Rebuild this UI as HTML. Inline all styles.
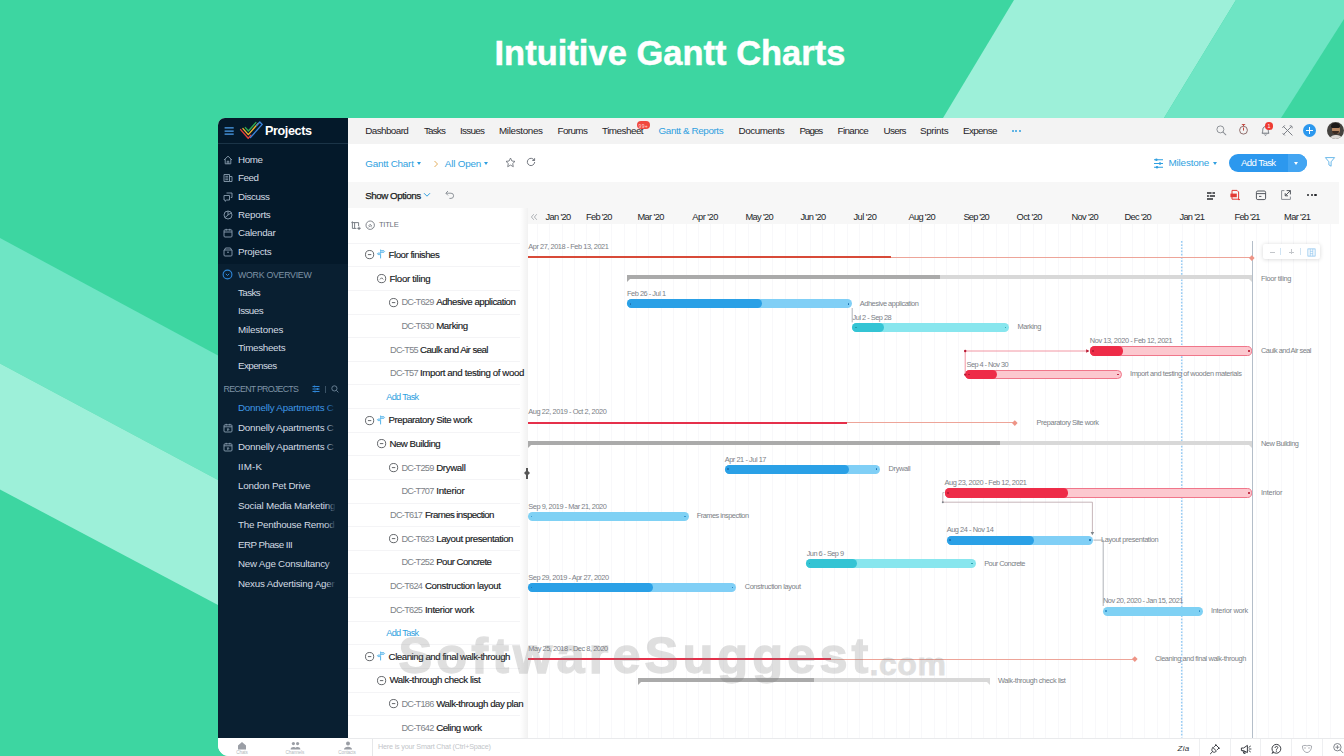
<!DOCTYPE html>
<html lang="en"><head><meta charset="utf-8"><title>Intuitive Gantt Charts</title>
<style>
html,body{margin:0;padding:0}
body{width:1344px;height:756px;position:relative;overflow:hidden;background:#3dd6a1;font-family:"Liberation Sans",sans-serif;}
.t{position:absolute;white-space:nowrap;display:block}
.b{position:absolute}
svg{position:absolute;overflow:visible}
</style></head><body>
<svg width="1344" height="756" style="left:0;top:0" viewBox="0 0 1344 756"><polygon points="0,238 218,355.5 218,480 0,363.5" fill="#6ee5c4"/><polygon points="0,363.5 218,480 218,605 0,489.5" fill="#9df0d9"/><polygon points="1014,0 1236,0 1164,118 943,118" fill="#9df0d9"/><polygon points="1236,0 1344,0 1344,19 1281,118 1164,118" fill="#6ee5c4"/></svg>
<span class="t" style="left:494.5px;top:33.4px;font-size:34.4px;line-height:40px;color:#fff;font-weight:700;letter-spacing:0.057px;-webkit-text-stroke:0.5px #fff;">Intuitive Gantt Charts</span>
<div class="b" style="left:218.0px;top:117.5px;width:1126.0px;height:638.5px;background:#fff;border-radius:7px 0 0 11px;"></div>
<div class="b" style="left:218.0px;top:117.5px;width:130.0px;height:621.0px;background:#04192a;border-radius:7px 0 0 0;"></div>
<div class="b" style="left:218.0px;top:143.3px;width:130.0px;height:1.0px;background:#1b3447;"></div>
<div class="b" style="left:218.0px;top:263.5px;width:130.0px;height:475.0px;background:#091f31;"></div>
<svg style="left:223.5px;top:125.5px" width="11" height="11" viewBox="0 0 11 11" fill="none" ><path d="M0.6 1.9 H9.7 M0.6 5.1 H9.7 M0.6 8.2 H9.7" stroke="#4da0ee" stroke-width="1.3"/></svg>
<svg style="left:239px;top:120px" width="25" height="21" viewBox="0 0 25 21" fill="none" stroke-linecap="round" stroke-linejoin="round"><path d="M1.6 9.6 L9.2 18.2 L12 15.2" stroke="#e8423a" stroke-width="1.4"/><path d="M4 8.6 L9.3 14.6 L19.2 3.4" stroke="#f4b52d" stroke-width="1.4"/><path d="M6.4 7.6 L9.4 11 L16.8 2.6" stroke="#2fa84f" stroke-width="1.4"/><path d="M11.4 17.6 L23.2 4.4 L20.8 2 L17.6 5.4" stroke="#3b82d8" stroke-width="1.4"/></svg>
<span class="t" style="left:265.0px;top:123.3px;font-size:12.6px;line-height:16px;color:#fff;font-weight:700;letter-spacing:-0.390px;">Projects</span>
<span class="t" style="left:238.0px;top:152.7px;font-size:9.8px;line-height:14px;color:#d3dbe3;letter-spacing:-0.410px;">Home</span>
<span class="t" style="left:238.0px;top:171.0px;font-size:9.8px;line-height:14px;color:#d3dbe3;letter-spacing:-0.459px;">Feed</span>
<span class="t" style="left:238.0px;top:189.5px;font-size:9.8px;line-height:14px;color:#d3dbe3;letter-spacing:-0.401px;">Discuss</span>
<span class="t" style="left:238.0px;top:207.9px;font-size:9.8px;line-height:14px;color:#d3dbe3;letter-spacing:-0.259px;">Reports</span>
<span class="t" style="left:238.0px;top:226.2px;font-size:9.8px;line-height:14px;color:#d3dbe3;letter-spacing:-0.283px;">Calendar</span>
<span class="t" style="left:238.0px;top:244.6px;font-size:9.8px;line-height:14px;color:#d3dbe3;letter-spacing:-0.237px;">Projects</span>
<span class="t" style="left:238.0px;top:267.6px;font-size:8.8px;line-height:14px;color:#7e93a6;letter-spacing:-0.276px;">WORK OVERVIEW</span>
<span class="t" style="left:238.0px;top:285.7px;font-size:9.8px;line-height:14px;color:#d3dbe3;letter-spacing:-0.610px;">Tasks</span>
<span class="t" style="left:238.0px;top:304.1px;font-size:9.8px;line-height:14px;color:#d3dbe3;letter-spacing:-0.554px;">Issues</span>
<span class="t" style="left:238.0px;top:322.5px;font-size:9.8px;line-height:14px;color:#d3dbe3;letter-spacing:-0.154px;">Milestones</span>
<span class="t" style="left:238.0px;top:340.9px;font-size:9.8px;line-height:14px;color:#d3dbe3;letter-spacing:-0.298px;">Timesheets</span>
<span class="t" style="left:238.0px;top:359.2px;font-size:9.8px;line-height:14px;color:#d3dbe3;letter-spacing:-0.567px;">Expenses</span>
<span class="t" style="left:223.6px;top:382.3px;font-size:8.8px;line-height:14px;color:#7e93a6;letter-spacing:-0.727px;">RECENT PROJECTS</span>
<div class="b" style="left:218px;top:398px;width:117px;height:196px;overflow:hidden">
<span class="t" style="left:20.0px;top:3.0px;font-size:9.8px;line-height:14px;color:#3f97e6;letter-spacing:-0.215px;">Donnelly Apartments C</span>
<span class="t" style="left:20.0px;top:22.6px;font-size:9.8px;line-height:14px;color:#d3dbe3;letter-spacing:-0.215px;">Donnelly Apartments C</span>
<span class="t" style="left:20.0px;top:42.1px;font-size:9.8px;line-height:14px;color:#d3dbe3;letter-spacing:-0.215px;">Donnelly Apartments C</span>
<span class="t" style="left:20.0px;top:61.6px;font-size:9.8px;line-height:14px;color:#d3dbe3;letter-spacing:0.138px;">IIM-K</span>
<span class="t" style="left:20.0px;top:81.1px;font-size:9.8px;line-height:14px;color:#d3dbe3;letter-spacing:-0.213px;">London Pet Drive</span>
<span class="t" style="left:20.0px;top:100.6px;font-size:9.8px;line-height:14px;color:#d3dbe3;letter-spacing:-0.208px;">Social Media Marketing</span>
<span class="t" style="left:20.0px;top:120.1px;font-size:9.8px;line-height:14px;color:#d3dbe3;letter-spacing:-0.228px;">The Penthouse Remodeling</span>
<span class="t" style="left:20.0px;top:139.6px;font-size:9.8px;line-height:14px;color:#d3dbe3;letter-spacing:-0.544px;">ERP Phase III</span>
<span class="t" style="left:20.0px;top:159.1px;font-size:9.8px;line-height:14px;color:#d3dbe3;letter-spacing:-0.227px;">New Age Consultancy</span>
<span class="t" style="left:20.0px;top:178.6px;font-size:9.8px;line-height:14px;color:#d3dbe3;letter-spacing:-0.212px;">Nexus Advertising Agency</span>
</div>
<div class="b" style="left:326.0px;top:398.0px;width:10.0px;height:196.0px;background:linear-gradient(90deg,rgba(9,31,49,0),rgba(9,31,49,1));"></div>
<svg style="left:222.5px;top:154.7px" width="10" height="10" viewBox="0 0 10 10" fill="none" ><path d="M1 5 L5 1.2 L9 5 M2.2 4.2 V8.8 H7.8 V4.2 M4.2 8.8 V6.2 H5.8 V8.8" stroke="#8a9eb0" stroke-width="0.9" stroke-linejoin="round"/></svg>
<svg style="left:222.5px;top:173.0px" width="10" height="10" viewBox="0 0 10 10" fill="none" ><path d="M1 1.5 H6.5 V8.5 H1 Z M6.5 3.5 H9 V8.5 H6.5 M2.3 3.3 H5.2 M2.3 5 H5.2 M2.3 6.7 H5.2" stroke="#8a9eb0" stroke-width="0.9"/></svg>
<svg style="left:222.5px;top:191.5px" width="10" height="10" viewBox="0 0 10 10" fill="none" ><path d="M3.5 1 H9 V5.5 H7.8 M1 3.5 H6.5 V8 H3.6 L2.2 9.3 V8 H1 Z" stroke="#8a9eb0" stroke-width="0.9" stroke-linejoin="round"/></svg>
<svg style="left:222.5px;top:209.9px" width="10" height="10" viewBox="0 0 10 10" fill="none" ><circle cx="5" cy="5" r="4" stroke="#8a9eb0" stroke-width="0.9"/><path d="M5 5 L8.3 2.8 M5 5 L2 7.6 M5 5 V1" stroke="#8a9eb0" stroke-width="0.9"/></svg>
<svg style="left:222.5px;top:228.2px" width="10" height="10" viewBox="0 0 10 10" fill="none" ><rect x="1" y="1.8" width="8" height="7.2" rx="1" stroke="#8a9eb0" stroke-width="0.9"/><path d="M1 4 H9 M3.2 0.8 V2.6 M6.8 0.8 V2.6" stroke="#8a9eb0" stroke-width="0.9"/></svg>
<svg style="left:222.5px;top:246.6px" width="10" height="10" viewBox="0 0 10 10" fill="none" ><path d="M1 3 H9 V8 A1 1 0 0 1 8 9 H2 A1 1 0 0 1 1 8 Z M1.5 3 L2.5 1 H7.5 L8.5 3 M4 5.2 H6" stroke="#8a9eb0" stroke-width="0.9" stroke-linejoin="round"/></svg>
<svg style="left:222.0px;top:269.2px" width="11" height="11" viewBox="0 0 11 11" fill="none" ><circle cx="5.5" cy="5.5" r="4.4" stroke="#2f86d8" stroke-width="1.1"/><path d="M3.8 4.8 L5.5 6.5 L7.2 4.8" stroke="#2f86d8" stroke-width="1"/></svg>
<svg style="left:311.5px;top:385.2px" width="8" height="8" viewBox="0 0 8 8" fill="none" ><path d="M0.5 1.5 H7.5 M0.5 4 H7.5 M0.5 6.5 H7.5" stroke="#2f86d8" stroke-width="1"/><circle cx="2.5" cy="1.5" r="0.9" fill="#2f86d8"/><circle cx="5.5" cy="4" r="0.9" fill="#2f86d8"/><circle cx="3" cy="6.5" r="0.9" fill="#2f86d8"/></svg>
<div class="b" style="left:325.3px;top:386.0px;width:0.8px;height:6.5px;background:#3a5266;"></div>
<svg style="left:330.5px;top:385.4px" width="8" height="8" viewBox="0 0 8 8" fill="none" ><circle cx="3.4" cy="3.4" r="2.6" stroke="#6f879b" stroke-width="0.9"/><path d="M5.4 5.4 L7.4 7.4" stroke="#6f879b" stroke-width="0.9"/></svg>
<svg style="left:222.5px;top:422.6px" width="10" height="10" viewBox="0 0 10 10" fill="none" ><rect x="1" y="1.8" width="8" height="7.2" rx="1" stroke="#8a9eb0" stroke-width="0.9"/><path d="M1 3.8 H9 M3.2 0.8 V2.4 M6.8 0.8 V2.4 M5 5 V7.4 M3.9 6.3 L5 7.4 L6.1 6.3" stroke="#8a9eb0" stroke-width="0.9"/></svg>
<svg style="left:222.5px;top:442.1px" width="10" height="10" viewBox="0 0 10 10" fill="none" ><rect x="1" y="1.8" width="8" height="7.2" rx="1" stroke="#8a9eb0" stroke-width="0.9"/><path d="M1 3.8 H9 M3.2 0.8 V2.4 M6.8 0.8 V2.4 M5 5 V7.4 M3.9 6.3 L5 7.4 L6.1 6.3" stroke="#8a9eb0" stroke-width="0.9"/></svg>
<div class="b" style="left:348.0px;top:117.5px;width:996.0px;height:26.5px;background:#f3f3f3;"></div>
<span class="t" style="left:365.2px;top:123.6px;font-size:9.9px;line-height:14px;color:#1f2328;letter-spacing:-0.581px;">Dashboard</span>
<span class="t" style="left:423.9px;top:123.6px;font-size:9.9px;line-height:14px;color:#1f2328;letter-spacing:-0.801px;">Tasks</span>
<span class="t" style="left:460.0px;top:123.6px;font-size:9.9px;line-height:14px;color:#1f2328;letter-spacing:-0.719px;">Issues</span>
<span class="t" style="left:499.0px;top:123.6px;font-size:9.9px;line-height:14px;color:#1f2328;letter-spacing:-0.352px;">Milestones</span>
<span class="t" style="left:557.5px;top:123.6px;font-size:9.9px;line-height:14px;color:#1f2328;letter-spacing:-0.625px;">Forums</span>
<span class="t" style="left:602.0px;top:123.6px;font-size:9.9px;line-height:14px;color:#1f2328;letter-spacing:-0.516px;">Timesheet</span>
<span class="t" style="left:658.6px;top:123.6px;font-size:9.9px;line-height:14px;color:#2f9fe0;letter-spacing:-0.412px;">Gantt &amp; Reports</span>
<span class="t" style="left:738.5px;top:123.6px;font-size:9.9px;line-height:14px;color:#1f2328;letter-spacing:-0.474px;">Documents</span>
<span class="t" style="left:799.5px;top:123.6px;font-size:9.9px;line-height:14px;color:#1f2328;letter-spacing:-1.054px;">Pages</span>
<span class="t" style="left:837.5px;top:123.6px;font-size:9.9px;line-height:14px;color:#1f2328;letter-spacing:-0.631px;">Finance</span>
<span class="t" style="left:883.5px;top:123.6px;font-size:9.9px;line-height:14px;color:#1f2328;letter-spacing:-0.710px;">Users</span>
<span class="t" style="left:920.0px;top:123.6px;font-size:9.9px;line-height:14px;color:#1f2328;letter-spacing:-0.359px;">Sprints</span>
<span class="t" style="left:963.0px;top:123.6px;font-size:9.9px;line-height:14px;color:#1f2328;letter-spacing:-0.675px;">Expense</span>
<div class="b" style="left:1011.6px;top:129.6px;width:2.2px;height:2.2px;border-radius:50%;background:#2f9fe0"></div>
<div class="b" style="left:1015.2px;top:129.6px;width:2.2px;height:2.2px;border-radius:50%;background:#2f9fe0"></div>
<div class="b" style="left:1018.8px;top:129.6px;width:2.2px;height:2.2px;border-radius:50%;background:#2f9fe0"></div>
<div class="b" style="left:636.5px;top:121.3px;width:13.5px;height:8.2px;border-radius:5px;background:#f0483e"></div>
<span class="t" style="left:638.6px;top:121.5px;font-size:5px;line-height:8px;color:#ffd9d4;letter-spacing:0.340px;">99+</span>
<svg style="left:1215.0px;top:124.0px" width="13" height="13" viewBox="0 0 13 13" fill="none" ><circle cx="5.4" cy="5.4" r="3.5" stroke="#8b8f95" stroke-width="0.95"/><path d="M8 8 L10.8 10.8" stroke="#8b8f95" stroke-width="1.05" stroke-linecap="round"/></svg>
<svg style="left:1236.8px;top:123.2px" width="13" height="13" viewBox="0 0 13 13" fill="none" ><circle cx="6.5" cy="7.2" r="3.9" stroke="#8a6664" stroke-width="0.95"/><path d="M6.5 7.2 V5 M5.2 1.6 H7.8 M6.5 1.6 V3" stroke="#c0473f" stroke-width="1" stroke-linecap="round"/></svg>
<svg style="left:1258.5px;top:124.0px" width="13" height="13" viewBox="0 0 13 13" fill="none" ><path d="M3 9.2 C3.8 8.2 3.6 6.8 3.8 5.4 C4 3.6 5 2.6 6.5 2.6 C8 2.6 9 3.6 9.2 5.4 C9.4 6.8 9.2 8.2 10 9.2 Z M5.4 10.6 C5.8 11.4 7.2 11.4 7.6 10.6" stroke="#6b7078" stroke-width="1" stroke-linejoin="round"/></svg>
<div class="b" style="left:1265px;top:122.2px;width:7.6px;height:7.6px;border-radius:50%;background:#ee3b33"></div>
<span class="t" style="left:1267.5px;top:122.1px;font-size:5.2px;line-height:8px;color:#fff;">1</span>
<svg style="left:1280.5px;top:124.0px" width="13" height="13" viewBox="0 0 13 13" fill="none" ><path d="M2.6 2.6 L10.4 10.4 M10.4 2.6 L2.6 10.4" stroke="#777b82" stroke-width="0.95" stroke-linecap="round"/><path d="M1.6 3.6 L3.6 1.6 M9 1.8 C10.4 1.2 11.8 2.6 11.2 4 M1.8 9.4 L3.6 11.2 M9.6 9.6 L11.2 11.2" stroke="#777b82" stroke-width="0.9" stroke-linecap="round"/></svg>
<div class="b" style="left:1302.7px;top:123.7px;width:13.4px;height:13.4px;border-radius:50%;background:#2c98ee"></div>
<div class="b" style="left:1306.2px;top:129.9px;width:6.4px;height:1.0px;background:#fff;"></div>
<div class="b" style="left:1308.9px;top:127.2px;width:1.0px;height:6.4px;background:#fff;"></div>
<div class="b" style="left:1326.6px;top:121.5px;width:17.8px;height:17.8px;border-radius:50%;background:#45423f;overflow:hidden"><div class="b" style="left:5.2px;top:3.4px;width:7.8px;height:9.4px;border-radius:46%;background:#b78763"></div><div class="b" style="left:4.4px;top:1.4px;width:9.4px;height:4.8px;border-radius:5px 5px 2px 2px;background:#1d1a19"></div><div class="b" style="left:5.6px;top:9.2px;width:7px;height:3.8px;border-radius:1px 1px 4px 4px;background:#3a2a22"></div><div class="b" style="left:2.4px;top:13.2px;width:14px;height:7px;border-radius:6px 6px 0 0;background:#dcd8d4"></div></div>
<span class="t" style="left:365.2px;top:156.7px;font-size:9.9px;line-height:14px;color:#2f9fe0;letter-spacing:-0.234px;">Gantt Chart</span>
<div class="b" style="left:417.3px;top:162px;width:0;height:0;border-left:2.6px solid transparent;border-right:2.6px solid transparent;border-top:3px solid #2f9fe0"></div>
<svg style="left:432.5px;top:159.5px" width="6" height="8" viewBox="0 0 6 8" fill="none" ><path d="M1.5 1 L4.5 4 L1.5 7" stroke="#e0a34a" stroke-width="0.9"/></svg>
<span class="t" style="left:444.8px;top:156.7px;font-size:9.9px;line-height:14px;color:#2f9fe0;letter-spacing:-0.196px;">All Open</span>
<div class="b" style="left:484.3px;top:162px;width:0;height:0;border-left:2.6px solid transparent;border-right:2.6px solid transparent;border-top:3px solid #2f9fe0"></div>
<svg style="left:505.0px;top:157.3px" width="11" height="11" viewBox="0 0 11 11" fill="none" ><path d="M5.5 1 L6.9 4 L10 4.4 L7.7 6.5 L8.3 9.7 L5.5 8.1 L2.7 9.7 L3.3 6.5 L1 4.4 L4.1 4 Z" stroke="#6b7078" stroke-width="0.85" stroke-linejoin="round"/></svg>
<svg style="left:525.5px;top:157.3px" width="10" height="10" viewBox="0 0 10 10" fill="none" ><path d="M8.3 3.2 A3.7 3.7 0 1 0 8.7 5.4" stroke="#6b7078" stroke-width="0.95" stroke-linecap="round"/><path d="M8.6 1.2 V3.5 H6.3" stroke="#6b7078" stroke-width="0.95"/></svg>
<svg style="left:1153.0px;top:158.0px" width="11" height="11" viewBox="0 0 11 11" fill="none" ><path d="M1 1.8 H10 M1 5.5 H10 M1 9.2 H10" stroke="#2f9fe0" stroke-width="1.1"/><circle cx="3.4" cy="1.8" r="1.2" fill="#2f9fe0"/><circle cx="7" cy="5.5" r="1.2" fill="#2f9fe0"/><circle cx="4" cy="9.2" r="1.2" fill="#2f9fe0"/></svg>
<span class="t" style="left:1168.6px;top:156.2px;font-size:9.9px;line-height:14px;color:#2f9fe0;letter-spacing:-0.196px;">Milestone</span>
<div class="b" style="left:1213.2px;top:162px;width:0;height:0;border-left:2.6px solid transparent;border-right:2.6px solid transparent;border-top:3px solid #2f9fe0"></div>
<div class="b" style="left:1229px;top:154px;width:77.6px;height:18.2px;border-radius:9.1px;background:#2c98ee;overflow:hidden"><div class="b" style="left:58.6px;top:0;width:19px;height:18.2px;background:#43a5f2"></div></div>
<span class="t" style="left:1241.0px;top:156.3px;font-size:9.6px;line-height:14px;color:#fff;letter-spacing:-0.589px;">Add Task</span>
<div class="b" style="left:1294.2px;top:161.9px;width:0;height:0;border-left:2.6px solid transparent;border-right:2.6px solid transparent;border-top:3px solid #fff"></div>
<svg style="left:1324.0px;top:155.5px" width="12" height="12" viewBox="0 0 12 12" fill="none" ><path d="M1.4 1.6 H10.6 L7.1 5.8 V10.2 L4.9 8.9 V5.8 Z" stroke="#5ab0e6" stroke-width="0.9" stroke-linejoin="round"/></svg>
<div class="b" style="left:348.0px;top:182.0px;width:990.7px;height:26.0px;background:#f7f7f7;"></div>
<span class="t" style="left:365.2px;top:188.6px;font-size:9.8px;line-height:14px;color:#1a1d21;letter-spacing:-0.467px;-webkit-text-stroke:0.25px #1a1d21;">Show Options</span>
<svg style="left:422.6px;top:192.4px" width="8" height="6" viewBox="0 0 8 6" fill="none" ><path d="M1 1.2 L4 4.2 L7 1.2" stroke="#2f9fe0" stroke-width="1"/></svg>
<svg style="left:443.5px;top:190.0px" width="11" height="10" viewBox="0 0 11 10" fill="none" ><path d="M2 3.2 H7 A2.6 2.6 0 0 1 7 8.4 H5.4" stroke="#8a8f96" stroke-width="0.95"/><path d="M4 1 L1.8 3.2 L4 5.4" stroke="#8a8f96" stroke-width="0.95"/></svg>
<svg style="left:1204.5px;top:189.5px" width="12" height="12" viewBox="0 0 12 12" fill="none" ><path d="M2 3 H10 M2 6 H10 M2 9 H8" stroke="#2a2d31" stroke-width="1.7"/><path d="M7 1.6 V4.4 M4.4 4.6 V7.4" stroke="#f5f5f6" stroke-width="0.9"/></svg>
<svg style="left:1229.0px;top:189.0px" width="12" height="12" viewBox="0 0 12 12" fill="none" ><path d="M3 1.4 H8 L9.6 3 V10.2 H3 Z" stroke="#e23b35" stroke-width="1"/><rect x="1.4" y="4.6" width="6.4" height="3.6" fill="#e23b35"/><path d="M9 10.6 H11" stroke="#e23b35" stroke-width="1"/></svg>
<svg style="left:1255.0px;top:189.0px" width="12" height="12" viewBox="0 0 12 12" fill="none" ><rect x="1.4" y="2" width="9.2" height="8.6" rx="1.4" stroke="#53585f" stroke-width="1"/><path d="M1.4 4.6 H10.6 M4 7.4 H6.4" stroke="#53585f" stroke-width="1"/></svg>
<svg style="left:1280.0px;top:189.0px" width="12" height="12" viewBox="0 0 12 12" fill="none" ><path d="M4.4 1.6 H1.6 V10.4 H10.4 V7.6" stroke="#8a8f96" stroke-width="1"/><path d="M6.6 1.6 H10.4 V5.4 M10.4 1.6 L5.2 6.8 M5.2 6.8 H8 M5.2 6.8 V4.2" stroke="#53585f" stroke-width="1"/></svg>
<div class="b" style="left:1306.6px;top:193.9px;width:2.4px;height:2.4px;border-radius:50%;background:#24272b"></div>
<div class="b" style="left:1310.5px;top:193.9px;width:2.4px;height:2.4px;border-radius:50%;background:#24272b"></div>
<div class="b" style="left:1314.4px;top:193.9px;width:2.4px;height:2.4px;border-radius:50%;background:#24272b"></div>
<div class="b" style="left:527.8px;top:208.0px;width:810.9px;height:16.3px;background:#f7f7f7;"></div>
<div class="b" style="left:348.0px;top:242.6px;width:172.0px;height:0.8px;background:#f4f4f6;"></div>
<div class="b" style="left:348.0px;top:266.2px;width:172.0px;height:0.8px;background:#f4f4f6;"></div>
<div class="b" style="left:348.0px;top:289.8px;width:172.0px;height:0.8px;background:#f4f4f6;"></div>
<div class="b" style="left:348.0px;top:313.5px;width:172.0px;height:0.8px;background:#f4f4f6;"></div>
<div class="b" style="left:348.0px;top:337.1px;width:172.0px;height:0.8px;background:#f4f4f6;"></div>
<div class="b" style="left:348.0px;top:360.7px;width:172.0px;height:0.8px;background:#f4f4f6;"></div>
<div class="b" style="left:348.0px;top:384.4px;width:172.0px;height:0.8px;background:#f4f4f6;"></div>
<div class="b" style="left:348.0px;top:408.0px;width:172.0px;height:0.8px;background:#f4f4f6;"></div>
<div class="b" style="left:348.0px;top:431.6px;width:172.0px;height:0.8px;background:#f4f4f6;"></div>
<div class="b" style="left:348.0px;top:455.3px;width:172.0px;height:0.8px;background:#f4f4f6;"></div>
<div class="b" style="left:348.0px;top:478.9px;width:172.0px;height:0.8px;background:#f4f4f6;"></div>
<div class="b" style="left:348.0px;top:502.5px;width:172.0px;height:0.8px;background:#f4f4f6;"></div>
<div class="b" style="left:348.0px;top:526.1px;width:172.0px;height:0.8px;background:#f4f4f6;"></div>
<div class="b" style="left:348.0px;top:549.8px;width:172.0px;height:0.8px;background:#f4f4f6;"></div>
<div class="b" style="left:348.0px;top:573.4px;width:172.0px;height:0.8px;background:#f4f4f6;"></div>
<div class="b" style="left:348.0px;top:597.0px;width:172.0px;height:0.8px;background:#f4f4f6;"></div>
<div class="b" style="left:348.0px;top:620.7px;width:172.0px;height:0.8px;background:#f4f4f6;"></div>
<div class="b" style="left:348.0px;top:644.3px;width:172.0px;height:0.8px;background:#f4f4f6;"></div>
<div class="b" style="left:348.0px;top:667.9px;width:172.0px;height:0.8px;background:#f4f4f6;"></div>
<div class="b" style="left:348.0px;top:691.6px;width:172.0px;height:0.8px;background:#f4f4f6;"></div>
<div class="b" style="left:348.0px;top:715.2px;width:172.0px;height:0.8px;background:#f4f4f6;"></div>
<div class="b" style="left:519.5px;top:208.0px;width:8.3px;height:530.0px;background:linear-gradient(90deg,rgba(0,0,0,0),rgba(0,0,0,0.055));"></div>
<div class="b" style="left:526.4px;top:468.0px;width:1.2px;height:11.0px;background:#555;"></div>
<div class="b" style="left:524.2px;top:471.4px;width:0;height:0;border-top:2px solid transparent;border-bottom:2px solid transparent;border-right:2.2px solid #555"></div>
<div class="b" style="left:527.6px;top:471.4px;width:0;height:0;border-top:2px solid transparent;border-bottom:2px solid transparent;border-left:2.2px solid #555"></div>
<svg style="left:351.0px;top:219.5px" width="11" height="11" viewBox="0 0 11 11" fill="none" ><path d="M1.4 2.6 H7.6 V6 M1.4 2.6 V8.4 H5.4 M3.6 2.6 V8.4 M0.4 2.6 H1.4 M1.4 1.4 V2.6" stroke="#6b7078" stroke-width="0.9"/><path d="M8 6.6 V10 M6.3 8.3 H9.7" stroke="#6b7078" stroke-width="1"/></svg>
<svg style="left:365.3px;top:219.7px" width="10.4" height="10.4" viewBox="0 0 10.4 10.4" fill="none" ><circle cx="5.2" cy="5.2" r="4.2" stroke="#6b7078" stroke-width="0.85"/><path d="M3.5 5.9 L5.2 4.2 L6.9 5.9 M3.5 7.4 L5.2 5.7 L6.9 7.4" stroke="#6b7078" stroke-width="0.75"/></svg>
<span class="t" style="left:378.9px;top:218.2px;font-size:7.6px;line-height:14px;color:#6b7078;letter-spacing:-0.218px;">TITLE</span>
<svg style="left:365.4px;top:250.1px" width="9.2" height="9.2" viewBox="0 0 9.2 9.2" fill="none" ><circle cx="4.6" cy="4.6" r="4.1" stroke="#3c4045" stroke-width="0.8"/><path d="M2.9 4.6 H6.3" stroke="#3c4045" stroke-width="0.8"/></svg>
<svg style="left:377.2px;top:249.2px" width="8" height="10" viewBox="0 0 8 10" fill="none" ><path d="M3.6 0.6 V9.4" stroke="#55b4ea" stroke-width="1"/><path d="M3.6 1.6 H6.8 L7.6 2.5 L6.8 3.4 H3.6 M3.6 4 H1 L0.3 4.8 L1 5.6 H3.6" stroke="#55b4ea" stroke-width="0.8" fill="#bfe3f7"/></svg>
<span class="t" style="left:388.6px;top:248.0px;font-size:9.7px;line-height:14px;color:#16181b;letter-spacing:-0.491px;-webkit-text-stroke:0.14px #16181b;">Floor finishes</span>
<svg style="left:377.1px;top:273.8px" width="9.2" height="9.2" viewBox="0 0 9.2 9.2" fill="none" ><circle cx="4.6" cy="4.6" r="4.1" stroke="#3c4045" stroke-width="0.8"/><path d="M3 5.4 L4.6 3.8 L6.2 5.4" stroke="#3c4045" stroke-width="0.8"/></svg>
<span class="t" style="left:389.4px;top:271.6px;font-size:9.7px;line-height:14px;color:#16181b;letter-spacing:-0.303px;-webkit-text-stroke:0.14px #16181b;">Floor tiling</span>
<svg style="left:389.0px;top:297.5px" width="9.2" height="9.2" viewBox="0 0 9.2 9.2" fill="none" ><circle cx="4.6" cy="4.6" r="4.1" stroke="#3c4045" stroke-width="0.8"/><path d="M2.9 4.6 H6.3" stroke="#3c4045" stroke-width="0.8"/></svg>
<span class="t" style="left:401.4px;top:295.3px;font-size:9.2px;line-height:14px;color:#7d8288;letter-spacing:-0.731px;">DC-T629</span>
<span class="t" style="left:436.2px;top:295.3px;font-size:9.7px;line-height:14px;color:#16181b;letter-spacing:-0.484px;-webkit-text-stroke:0.14px #16181b;">Adhesive application</span>
<span class="t" style="left:401.4px;top:318.9px;font-size:9.2px;line-height:14px;color:#7d8288;letter-spacing:-0.731px;">DC-T630</span>
<span class="t" style="left:436.2px;top:318.9px;font-size:9.7px;line-height:14px;color:#16181b;letter-spacing:-0.414px;-webkit-text-stroke:0.14px #16181b;">Marking</span>
<span class="t" style="left:390.0px;top:342.5px;font-size:9.2px;line-height:14px;color:#7d8288;letter-spacing:-0.700px;">DC-T55</span>
<span class="t" style="left:420.0px;top:342.5px;font-size:9.7px;line-height:14px;color:#16181b;letter-spacing:-0.565px;-webkit-text-stroke:0.14px #16181b;">Caulk and Air seal</span>
<span class="t" style="left:390.0px;top:366.2px;font-size:9.2px;line-height:14px;color:#7d8288;letter-spacing:-0.734px;">DC-T57</span>
<span class="t" style="left:420.0px;top:366.2px;font-size:9.7px;line-height:14px;color:#16181b;letter-spacing:-0.396px;-webkit-text-stroke:0.14px #16181b;">Import and testing of wood</span>
<span class="t" style="left:386.2px;top:389.8px;font-size:9.2px;line-height:14px;color:#2f9fe0;letter-spacing:-0.659px;">Add Task</span>
<svg style="left:365.4px;top:415.5px" width="9.2" height="9.2" viewBox="0 0 9.2 9.2" fill="none" ><circle cx="4.6" cy="4.6" r="4.1" stroke="#3c4045" stroke-width="0.8"/><path d="M2.9 4.6 H6.3" stroke="#3c4045" stroke-width="0.8"/></svg>
<svg style="left:377.2px;top:414.6px" width="8" height="10" viewBox="0 0 8 10" fill="none" ><path d="M3.6 0.6 V9.4" stroke="#55b4ea" stroke-width="1"/><path d="M3.6 1.6 H6.8 L7.6 2.5 L6.8 3.4 H3.6 M3.6 4 H1 L0.3 4.8 L1 5.6 H3.6" stroke="#55b4ea" stroke-width="0.8" fill="#bfe3f7"/></svg>
<span class="t" style="left:388.6px;top:413.4px;font-size:9.7px;line-height:14px;color:#16181b;letter-spacing:-0.469px;-webkit-text-stroke:0.14px #16181b;">Preparatory Site work</span>
<svg style="left:377.1px;top:439.2px" width="9.2" height="9.2" viewBox="0 0 9.2 9.2" fill="none" ><circle cx="4.6" cy="4.6" r="4.1" stroke="#3c4045" stroke-width="0.8"/><path d="M2.9 4.6 H6.3" stroke="#3c4045" stroke-width="0.8"/></svg>
<span class="t" style="left:389.4px;top:437.0px;font-size:9.7px;line-height:14px;color:#16181b;letter-spacing:-0.476px;-webkit-text-stroke:0.14px #16181b;">New Building</span>
<svg style="left:389.0px;top:462.9px" width="9.2" height="9.2" viewBox="0 0 9.2 9.2" fill="none" ><circle cx="4.6" cy="4.6" r="4.1" stroke="#3c4045" stroke-width="0.8"/><path d="M2.9 4.6 H6.3" stroke="#3c4045" stroke-width="0.8"/></svg>
<span class="t" style="left:401.4px;top:460.7px;font-size:9.2px;line-height:14px;color:#7d8288;letter-spacing:-0.731px;">DC-T259</span>
<span class="t" style="left:436.2px;top:460.7px;font-size:9.7px;line-height:14px;color:#16181b;letter-spacing:-0.356px;-webkit-text-stroke:0.14px #16181b;">Drywall</span>
<span class="t" style="left:401.4px;top:484.3px;font-size:9.2px;line-height:14px;color:#7d8288;letter-spacing:-0.731px;">DC-T707</span>
<span class="t" style="left:436.2px;top:484.3px;font-size:9.7px;line-height:14px;color:#16181b;letter-spacing:-0.236px;-webkit-text-stroke:0.14px #16181b;">Interior</span>
<span class="t" style="left:390.0px;top:507.9px;font-size:9.2px;line-height:14px;color:#7d8288;letter-spacing:-0.731px;">DC-T617</span>
<span class="t" style="left:425.0px;top:507.9px;font-size:9.7px;line-height:14px;color:#16181b;letter-spacing:-0.603px;-webkit-text-stroke:0.14px #16181b;">Frames inspection</span>
<svg style="left:389.0px;top:533.8px" width="9.2" height="9.2" viewBox="0 0 9.2 9.2" fill="none" ><circle cx="4.6" cy="4.6" r="4.1" stroke="#3c4045" stroke-width="0.8"/><path d="M2.9 4.6 H6.3" stroke="#3c4045" stroke-width="0.8"/></svg>
<span class="t" style="left:401.4px;top:531.6px;font-size:9.2px;line-height:14px;color:#7d8288;letter-spacing:-0.731px;">DC-T623</span>
<span class="t" style="left:436.2px;top:531.6px;font-size:9.7px;line-height:14px;color:#16181b;letter-spacing:-0.432px;-webkit-text-stroke:0.14px #16181b;">Layout presentation</span>
<span class="t" style="left:401.4px;top:555.2px;font-size:9.2px;line-height:14px;color:#7d8288;letter-spacing:-0.731px;">DC-T252</span>
<span class="t" style="left:436.2px;top:555.2px;font-size:9.7px;line-height:14px;color:#16181b;letter-spacing:-0.557px;-webkit-text-stroke:0.14px #16181b;">Pour Concrete</span>
<span class="t" style="left:390.0px;top:578.8px;font-size:9.2px;line-height:14px;color:#7d8288;letter-spacing:-0.731px;">DC-T624</span>
<span class="t" style="left:425.0px;top:578.8px;font-size:9.7px;line-height:14px;color:#16181b;letter-spacing:-0.391px;-webkit-text-stroke:0.14px #16181b;">Construction layout</span>
<span class="t" style="left:390.0px;top:602.5px;font-size:9.2px;line-height:14px;color:#7d8288;letter-spacing:-0.731px;">DC-T625</span>
<span class="t" style="left:425.0px;top:602.5px;font-size:9.7px;line-height:14px;color:#16181b;letter-spacing:-0.335px;-webkit-text-stroke:0.14px #16181b;">Interior work</span>
<span class="t" style="left:386.2px;top:626.1px;font-size:9.2px;line-height:14px;color:#2f9fe0;letter-spacing:-0.659px;">Add Task</span>
<svg style="left:365.4px;top:651.8px" width="9.2" height="9.2" viewBox="0 0 9.2 9.2" fill="none" ><circle cx="4.6" cy="4.6" r="4.1" stroke="#3c4045" stroke-width="0.8"/><path d="M2.9 4.6 H6.3" stroke="#3c4045" stroke-width="0.8"/></svg>
<svg style="left:377.2px;top:650.9px" width="8" height="10" viewBox="0 0 8 10" fill="none" ><path d="M3.6 0.6 V9.4" stroke="#55b4ea" stroke-width="1"/><path d="M3.6 1.6 H6.8 L7.6 2.5 L6.8 3.4 H3.6 M3.6 4 H1 L0.3 4.8 L1 5.6 H3.6" stroke="#55b4ea" stroke-width="0.8" fill="#bfe3f7"/></svg>
<span class="t" style="left:388.6px;top:649.7px;font-size:9.7px;line-height:14px;color:#16181b;letter-spacing:-0.461px;-webkit-text-stroke:0.14px #16181b;">Cleaning and final walk-through</span>
<svg style="left:377.1px;top:675.5px" width="9.2" height="9.2" viewBox="0 0 9.2 9.2" fill="none" ><circle cx="4.6" cy="4.6" r="4.1" stroke="#3c4045" stroke-width="0.8"/><path d="M2.9 4.6 H6.3" stroke="#3c4045" stroke-width="0.8"/></svg>
<span class="t" style="left:389.4px;top:673.3px;font-size:9.7px;line-height:14px;color:#16181b;letter-spacing:-0.387px;-webkit-text-stroke:0.14px #16181b;">Walk-through check list</span>
<svg style="left:389.0px;top:699.2px" width="9.2" height="9.2" viewBox="0 0 9.2 9.2" fill="none" ><circle cx="4.6" cy="4.6" r="4.1" stroke="#3c4045" stroke-width="0.8"/><path d="M2.9 4.6 H6.3" stroke="#3c4045" stroke-width="0.8"/></svg>
<span class="t" style="left:401.4px;top:697.0px;font-size:9.2px;line-height:14px;color:#7d8288;letter-spacing:-0.731px;">DC-T186</span>
<span class="t" style="left:436.2px;top:697.0px;font-size:9.7px;line-height:14px;color:#16181b;letter-spacing:-0.461px;-webkit-text-stroke:0.14px #16181b;">Walk-through day plan</span>
<span class="t" style="left:401.4px;top:720.6px;font-size:9.2px;line-height:14px;color:#7d8288;letter-spacing:-0.731px;">DC-T642</span>
<span class="t" style="left:436.2px;top:720.6px;font-size:9.7px;line-height:14px;color:#16181b;letter-spacing:-0.479px;-webkit-text-stroke:0.14px #16181b;">Celing work</span>
<div class="b" style="left:536.7px;top:224.3px;width:0.8px;height:513.5px;background:#f8f8fa;"></div>
<div class="b" style="left:549.1px;top:224.3px;width:0.8px;height:513.5px;background:#f8f8fa;"></div>
<div class="b" style="left:561.5px;top:224.3px;width:0.8px;height:513.5px;background:#f8f8fa;"></div>
<div class="b" style="left:573.9px;top:224.3px;width:0.8px;height:513.5px;background:#f8f8fa;"></div>
<div class="b" style="left:586.3px;top:224.3px;width:0.8px;height:513.5px;background:#f8f8fa;"></div>
<div class="b" style="left:598.7px;top:224.3px;width:0.8px;height:513.5px;background:#f8f8fa;"></div>
<div class="b" style="left:611.1px;top:224.3px;width:0.8px;height:513.5px;background:#f8f8fa;"></div>
<div class="b" style="left:623.5px;top:224.3px;width:0.8px;height:513.5px;background:#f8f8fa;"></div>
<div class="b" style="left:635.9px;top:224.3px;width:0.8px;height:513.5px;background:#f8f8fa;"></div>
<div class="b" style="left:648.3px;top:224.3px;width:0.8px;height:513.5px;background:#f8f8fa;"></div>
<div class="b" style="left:660.7px;top:224.3px;width:0.8px;height:513.5px;background:#f8f8fa;"></div>
<div class="b" style="left:673.1px;top:224.3px;width:0.8px;height:513.5px;background:#f8f8fa;"></div>
<div class="b" style="left:685.5px;top:224.3px;width:0.8px;height:513.5px;background:#f8f8fa;"></div>
<div class="b" style="left:697.9px;top:224.3px;width:0.8px;height:513.5px;background:#f8f8fa;"></div>
<div class="b" style="left:710.3px;top:224.3px;width:0.8px;height:513.5px;background:#f8f8fa;"></div>
<div class="b" style="left:722.7px;top:224.3px;width:0.8px;height:513.5px;background:#f8f8fa;"></div>
<div class="b" style="left:735.1px;top:224.3px;width:0.8px;height:513.5px;background:#f8f8fa;"></div>
<div class="b" style="left:747.5px;top:224.3px;width:0.8px;height:513.5px;background:#f8f8fa;"></div>
<div class="b" style="left:759.9px;top:224.3px;width:0.8px;height:513.5px;background:#f8f8fa;"></div>
<div class="b" style="left:772.3px;top:224.3px;width:0.8px;height:513.5px;background:#f8f8fa;"></div>
<div class="b" style="left:784.7px;top:224.3px;width:0.8px;height:513.5px;background:#f8f8fa;"></div>
<div class="b" style="left:797.1px;top:224.3px;width:0.8px;height:513.5px;background:#f8f8fa;"></div>
<div class="b" style="left:809.5px;top:224.3px;width:0.8px;height:513.5px;background:#f8f8fa;"></div>
<div class="b" style="left:821.9px;top:224.3px;width:0.8px;height:513.5px;background:#f8f8fa;"></div>
<div class="b" style="left:834.3px;top:224.3px;width:0.8px;height:513.5px;background:#f8f8fa;"></div>
<div class="b" style="left:846.7px;top:224.3px;width:0.8px;height:513.5px;background:#f8f8fa;"></div>
<div class="b" style="left:859.1px;top:224.3px;width:0.8px;height:513.5px;background:#f8f8fa;"></div>
<div class="b" style="left:871.5px;top:224.3px;width:0.8px;height:513.5px;background:#f8f8fa;"></div>
<div class="b" style="left:883.9px;top:224.3px;width:0.8px;height:513.5px;background:#f8f8fa;"></div>
<div class="b" style="left:896.3px;top:224.3px;width:0.8px;height:513.5px;background:#f8f8fa;"></div>
<div class="b" style="left:908.7px;top:224.3px;width:0.8px;height:513.5px;background:#f8f8fa;"></div>
<div class="b" style="left:921.1px;top:224.3px;width:0.8px;height:513.5px;background:#f8f8fa;"></div>
<div class="b" style="left:933.5px;top:224.3px;width:0.8px;height:513.5px;background:#f8f8fa;"></div>
<div class="b" style="left:945.9px;top:224.3px;width:0.8px;height:513.5px;background:#f8f8fa;"></div>
<div class="b" style="left:958.3px;top:224.3px;width:0.8px;height:513.5px;background:#f8f8fa;"></div>
<div class="b" style="left:970.7px;top:224.3px;width:0.8px;height:513.5px;background:#f8f8fa;"></div>
<div class="b" style="left:983.1px;top:224.3px;width:0.8px;height:513.5px;background:#f8f8fa;"></div>
<div class="b" style="left:995.5px;top:224.3px;width:0.8px;height:513.5px;background:#f8f8fa;"></div>
<div class="b" style="left:1007.9px;top:224.3px;width:0.8px;height:513.5px;background:#f8f8fa;"></div>
<div class="b" style="left:1020.3px;top:224.3px;width:0.8px;height:513.5px;background:#f8f8fa;"></div>
<div class="b" style="left:1032.7px;top:224.3px;width:0.8px;height:513.5px;background:#f8f8fa;"></div>
<div class="b" style="left:1045.1px;top:224.3px;width:0.8px;height:513.5px;background:#f8f8fa;"></div>
<div class="b" style="left:1057.5px;top:224.3px;width:0.8px;height:513.5px;background:#f8f8fa;"></div>
<div class="b" style="left:1069.9px;top:224.3px;width:0.8px;height:513.5px;background:#f8f8fa;"></div>
<div class="b" style="left:1082.3px;top:224.3px;width:0.8px;height:513.5px;background:#f8f8fa;"></div>
<div class="b" style="left:1094.7px;top:224.3px;width:0.8px;height:513.5px;background:#f8f8fa;"></div>
<div class="b" style="left:1107.1px;top:224.3px;width:0.8px;height:513.5px;background:#f8f8fa;"></div>
<div class="b" style="left:1119.5px;top:224.3px;width:0.8px;height:513.5px;background:#f8f8fa;"></div>
<div class="b" style="left:1131.9px;top:224.3px;width:0.8px;height:513.5px;background:#f8f8fa;"></div>
<div class="b" style="left:1144.4px;top:224.3px;width:0.8px;height:513.5px;background:#f8f8fa;"></div>
<div class="b" style="left:1156.8px;top:224.3px;width:0.8px;height:513.5px;background:#f8f8fa;"></div>
<div class="b" style="left:1169.2px;top:224.3px;width:0.8px;height:513.5px;background:#f8f8fa;"></div>
<div class="b" style="left:1181.6px;top:224.3px;width:0.8px;height:513.5px;background:#f8f8fa;"></div>
<div class="b" style="left:1194.0px;top:224.3px;width:0.8px;height:513.5px;background:#f8f8fa;"></div>
<div class="b" style="left:1206.4px;top:224.3px;width:0.8px;height:513.5px;background:#f8f8fa;"></div>
<div class="b" style="left:1218.8px;top:224.3px;width:0.8px;height:513.5px;background:#f8f8fa;"></div>
<div class="b" style="left:1231.2px;top:224.3px;width:0.8px;height:513.5px;background:#f8f8fa;"></div>
<div class="b" style="left:1243.6px;top:224.3px;width:0.8px;height:513.5px;background:#f8f8fa;"></div>
<div class="b" style="left:1256.0px;top:224.3px;width:0.8px;height:513.5px;background:#f8f8fa;"></div>
<div class="b" style="left:1268.4px;top:224.3px;width:0.8px;height:513.5px;background:#f8f8fa;"></div>
<div class="b" style="left:1280.8px;top:224.3px;width:0.8px;height:513.5px;background:#f8f8fa;"></div>
<div class="b" style="left:1293.2px;top:224.3px;width:0.8px;height:513.5px;background:#f8f8fa;"></div>
<div class="b" style="left:1305.6px;top:224.3px;width:0.8px;height:513.5px;background:#f8f8fa;"></div>
<div class="b" style="left:1318.0px;top:224.3px;width:0.8px;height:513.5px;background:#f8f8fa;"></div>
<div class="b" style="left:1330.4px;top:224.3px;width:0.8px;height:513.5px;background:#f8f8fa;"></div>
<span class="t" style="left:545.4px;top:210.3px;font-size:9.3px;line-height:14px;color:#23262a;letter-spacing:-0.642px;">Jan &#x27;20</span>
<span class="t" style="left:586.0px;top:210.3px;font-size:9.3px;line-height:14px;color:#23262a;letter-spacing:-0.732px;">Feb &#x27;20</span>
<span class="t" style="left:637.4px;top:210.3px;font-size:9.3px;line-height:14px;color:#23262a;letter-spacing:-0.603px;">Mar &#x27;20</span>
<span class="t" style="left:692.3px;top:210.3px;font-size:9.3px;line-height:14px;color:#23262a;letter-spacing:-0.511px;">Apr &#x27;20</span>
<span class="t" style="left:745.5px;top:210.3px;font-size:9.3px;line-height:14px;color:#23262a;letter-spacing:-0.667px;">May &#x27;20</span>
<span class="t" style="left:800.4px;top:210.3px;font-size:9.3px;line-height:14px;color:#23262a;letter-spacing:-0.671px;">Jun &#x27;20</span>
<span class="t" style="left:853.5px;top:210.3px;font-size:9.3px;line-height:14px;color:#23262a;letter-spacing:-0.542px;">Jul &#x27;20</span>
<span class="t" style="left:908.5px;top:210.3px;font-size:9.3px;line-height:14px;color:#23262a;letter-spacing:-0.693px;">Aug &#x27;20</span>
<span class="t" style="left:963.4px;top:210.3px;font-size:9.3px;line-height:14px;color:#23262a;letter-spacing:-0.807px;">Sep &#x27;20</span>
<span class="t" style="left:1016.5px;top:210.3px;font-size:9.3px;line-height:14px;color:#23262a;letter-spacing:-0.539px;">Oct &#x27;20</span>
<span class="t" style="left:1071.5px;top:210.3px;font-size:9.3px;line-height:14px;color:#23262a;letter-spacing:-0.663px;">Nov &#x27;20</span>
<span class="t" style="left:1124.6px;top:210.3px;font-size:9.3px;line-height:14px;color:#23262a;letter-spacing:-0.692px;">Dec &#x27;20</span>
<span class="t" style="left:1179.5px;top:210.3px;font-size:9.3px;line-height:14px;color:#23262a;letter-spacing:-0.728px;">Jan &#x27;21</span>
<span class="t" style="left:1234.5px;top:210.3px;font-size:9.3px;line-height:14px;color:#23262a;letter-spacing:-0.789px;">Feb &#x27;21</span>
<span class="t" style="left:1284.1px;top:210.3px;font-size:9.3px;line-height:14px;color:#23262a;letter-spacing:-0.645px;">Mar &#x27;21</span>
<svg style="left:530.0px;top:213.3px" width="8" height="8" viewBox="0 0 8 8" fill="none" ><path d="M3.8 1.2 L1.4 4 L3.8 6.8 M6.8 1.2 L4.4 4 L6.8 6.8" stroke="#9a9ea4" stroke-width="0.8"/></svg>
<svg style="left:0;top:0" width="1344" height="756"><path d="M1181.7 241 V737.6" stroke="#98ccf4" stroke-width="1.5" stroke-dasharray="1.7 1.5"/></svg>
<div class="b" style="left:1252.0px;top:241.0px;width:0.9px;height:497.0px;background:#b4bec9;"></div>
<div class="b" style="left:528.0px;top:256.4px;width:362.6px;height:1.8px;background:#d84a38;"></div>
<div class="b" style="left:890.6px;top:256.8px;width:361.8px;height:1.0px;background:#eda498;"></div>
<div class="b" style="left:1250.4px;top:255.5px;width:3.6px;height:3.6px;background:#ee9486;transform:rotate(45deg)"></div>
<span class="t" style="left:528.3px;top:242.0px;font-size:7.4px;line-height:10px;color:#7b8086;letter-spacing:-0.458px;">Apr 27, 2018 - Feb 13, 2021</span>
<div class="b" style="left:627.0px;top:275.1px;width:313.4px;height:4.0px;background:#aaaaaa;"></div>
<div class="b" style="left:940.4px;top:275.1px;width:312.0px;height:4.0px;background:#d8d8d8;"></div>
<div class="b" style="left:627.0px;top:279.1px;width:0;height:0;border-left:0 solid transparent;border-right:3px solid transparent;border-top:3.4px solid #aaaaaa"></div>
<div class="b" style="left:1249.4px;top:279.1px;width:0;height:0;border-left:3px solid transparent;border-top:3.4px solid #d8d8d8"></div>
<span class="t" style="left:1261.0px;top:273.7px;font-size:7.4px;line-height:10px;color:#7b8086;letter-spacing:-0.344px;">Floor tiling</span>
<div class="b" style="left:627.0px;top:299.3px;width:225.0px;height:9.0px;box-sizing:border-box;border-radius:4.6px;background:#80cff6;"></div>
<div class="b" style="left:627.0px;top:299.3px;width:135.0px;height:9.0px;border-radius:4.6px;background:#2aa0e6"></div>
<div class="b" style="left:629.6px;top:303.0px;width:1.6px;height:1.6px;border-radius:50%;background:#1b6fae"></div>
<div class="b" style="left:847.6px;top:303.0px;width:1.6px;height:1.6px;border-radius:50%;background:#1b6fae"></div>
<span class="t" style="left:627.0px;top:289.1px;font-size:7.4px;line-height:10px;color:#7b8086;letter-spacing:-0.474px;">Feb 26 - Jul 1</span>
<span class="t" style="left:859.8px;top:298.6px;font-size:7.4px;line-height:10px;color:#7b8086;letter-spacing:-0.459px;">Adhesive application</span>
<div class="b" style="left:852.4px;top:322.9px;width:156.6px;height:9.0px;box-sizing:border-box;border-radius:4.6px;background:#88e6ee;"></div>
<div class="b" style="left:852.4px;top:322.9px;width:31.5px;height:9.0px;border-radius:4.6px;background:#34c4d4"></div>
<div class="b" style="left:855.0px;top:326.6px;width:1.6px;height:1.6px;border-radius:50%;background:#1f97a6"></div>
<div class="b" style="left:1004.6px;top:326.6px;width:1.6px;height:1.6px;border-radius:50%;background:#1f97a6"></div>
<span class="t" style="left:852.6px;top:312.7px;font-size:7.4px;line-height:10px;color:#7b8086;letter-spacing:-0.504px;">Jul 2 - Sep 28</span>
<span class="t" style="left:1017.4px;top:322.2px;font-size:7.4px;line-height:10px;color:#7b8086;letter-spacing:-0.388px;">Marking</span>
<div class="b" style="left:1089.8px;top:346.2px;width:162.6px;height:9.7px;box-sizing:border-box;border-radius:4.6px;background:#fcc8cf;border:0.9px solid #f0768a;"></div>
<div class="b" style="left:1089.8px;top:346.2px;width:32.8px;height:9.7px;border-radius:4.6px;background:#ee2c48"></div>
<div class="b" style="left:1092.4px;top:350.2px;width:1.6px;height:1.6px;border-radius:50%;background:#b81a33"></div>
<div class="b" style="left:1248.0px;top:350.2px;width:1.6px;height:1.6px;border-radius:50%;background:#b81a33"></div>
<span class="t" style="left:1089.8px;top:336.3px;font-size:7.4px;line-height:10px;color:#7b8086;letter-spacing:-0.433px;">Nov 13, 2020 - Feb 12, 2021</span>
<span class="t" style="left:1261.0px;top:345.8px;font-size:7.4px;line-height:10px;color:#7b8086;letter-spacing:-0.536px;">Caulk and Air seal</span>
<div class="b" style="left:965.4px;top:369.8px;width:156.3px;height:9.7px;box-sizing:border-box;border-radius:4.6px;background:#fcc8cf;border:0.9px solid #f0768a;"></div>
<div class="b" style="left:965.4px;top:369.8px;width:31.2px;height:9.7px;border-radius:4.6px;background:#ee2c48"></div>
<div class="b" style="left:968.0px;top:373.9px;width:1.6px;height:1.6px;border-radius:50%;background:#b81a33"></div>
<div class="b" style="left:1117.3px;top:373.9px;width:1.6px;height:1.6px;border-radius:50%;background:#b81a33"></div>
<span class="t" style="left:966.5px;top:359.9px;font-size:7.4px;line-height:10px;color:#7b8086;letter-spacing:-0.554px;">Sep 4 - Nov 30</span>
<span class="t" style="left:1130.0px;top:369.4px;font-size:7.4px;line-height:10px;color:#7b8086;letter-spacing:-0.419px;">Import and testing of wooden materials</span>
<div class="b" style="left:528.0px;top:421.8px;width:318.9px;height:1.8px;background:#e5304a;"></div>
<div class="b" style="left:846.9px;top:422.2px;width:168.5px;height:1.0px;background:#eda498;"></div>
<div class="b" style="left:1013.4px;top:420.9px;width:3.6px;height:3.6px;background:#ee9486;transform:rotate(45deg)"></div>
<span class="t" style="left:528.3px;top:407.4px;font-size:7.4px;line-height:10px;color:#7b8086;letter-spacing:-0.410px;">Aug 22, 2019 - Oct 2, 2020</span>
<span class="t" style="left:1036.6px;top:417.9px;font-size:7.4px;line-height:10px;color:#7b8086;letter-spacing:-0.435px;">Preparatory Site work</span>
<div class="b" style="left:528.0px;top:440.5px;width:471.8px;height:4.0px;background:#aaaaaa;"></div>
<div class="b" style="left:999.8px;top:440.5px;width:252.6px;height:4.0px;background:#d8d8d8;"></div>
<div class="b" style="left:528.0px;top:444.5px;width:0;height:0;border-right:3px solid transparent;border-top:3.4px solid #aaaaaa"></div>
<div class="b" style="left:1249.4px;top:444.5px;width:0;height:0;border-left:3px solid transparent;border-top:3.4px solid #d8d8d8"></div>
<span class="t" style="left:1261.0px;top:439.1px;font-size:7.4px;line-height:10px;color:#7b8086;letter-spacing:-0.474px;">New Building</span>
<div class="b" style="left:724.7px;top:464.7px;width:155.3px;height:9.0px;box-sizing:border-box;border-radius:4.6px;background:#80cff6;"></div>
<div class="b" style="left:724.7px;top:464.7px;width:124.0px;height:9.0px;border-radius:4.6px;background:#2aa0e6"></div>
<div class="b" style="left:727.3px;top:468.4px;width:1.6px;height:1.6px;border-radius:50%;background:#1b6fae"></div>
<div class="b" style="left:875.6px;top:468.4px;width:1.6px;height:1.6px;border-radius:50%;background:#1b6fae"></div>
<span class="t" style="left:724.7px;top:454.5px;font-size:7.4px;line-height:10px;color:#7b8086;letter-spacing:-0.448px;">Apr 21 - Jul 17</span>
<span class="t" style="left:888.6px;top:464.0px;font-size:7.4px;line-height:10px;color:#7b8086;letter-spacing:-0.379px;">Drywall</span>
<div class="b" style="left:944.6px;top:487.9px;width:307.8px;height:9.7px;box-sizing:border-box;border-radius:4.6px;background:#fcc8cf;border:0.9px solid #f0768a;"></div>
<div class="b" style="left:944.6px;top:487.9px;width:123.3px;height:9.7px;border-radius:4.6px;background:#ee2c48"></div>
<div class="b" style="left:947.2px;top:492.0px;width:1.6px;height:1.6px;border-radius:50%;background:#b81a33"></div>
<div class="b" style="left:1248.0px;top:492.0px;width:1.6px;height:1.6px;border-radius:50%;background:#b81a33"></div>
<span class="t" style="left:944.6px;top:478.1px;font-size:7.4px;line-height:10px;color:#7b8086;letter-spacing:-0.452px;">Aug 23, 2020 - Feb 12, 2021</span>
<span class="t" style="left:1261.0px;top:487.6px;font-size:7.4px;line-height:10px;color:#7b8086;letter-spacing:-0.229px;">Interior</span>
<div class="b" style="left:528.0px;top:511.9px;width:160.5px;height:9.0px;box-sizing:border-box;border-radius:4.6px;background:#7fd1f4;"></div>
<div class="b" style="left:530.6px;top:515.6px;width:1.6px;height:1.6px;border-radius:50%;background:#2e8fc9"></div>
<div class="b" style="left:684.1px;top:515.6px;width:1.6px;height:1.6px;border-radius:50%;background:#2e8fc9"></div>
<span class="t" style="left:528.3px;top:501.7px;font-size:7.4px;line-height:10px;color:#7b8086;letter-spacing:-0.457px;">Sep 9, 2019 - Mar 21, 2020</span>
<span class="t" style="left:696.8px;top:511.2px;font-size:7.4px;line-height:10px;color:#7b8086;letter-spacing:-0.509px;">Frames inspection</span>
<div class="b" style="left:946.7px;top:535.6px;width:146.8px;height:9.0px;box-sizing:border-box;border-radius:4.6px;background:#80cff6;"></div>
<div class="b" style="left:946.7px;top:535.6px;width:87.3px;height:9.0px;border-radius:4.6px;background:#2aa0e6"></div>
<div class="b" style="left:949.3px;top:539.3px;width:1.6px;height:1.6px;border-radius:50%;background:#1b6fae"></div>
<div class="b" style="left:1089.1px;top:539.3px;width:1.6px;height:1.6px;border-radius:50%;background:#1b6fae"></div>
<span class="t" style="left:946.7px;top:525.4px;font-size:7.4px;line-height:10px;color:#7b8086;letter-spacing:-0.445px;">Aug 24 - Nov 14</span>
<span class="t" style="left:1101.0px;top:534.9px;font-size:7.4px;line-height:10px;color:#7b8086;letter-spacing:-0.410px;">Layout presentation</span>
<div class="b" style="left:806.2px;top:559.2px;width:169.6px;height:9.0px;box-sizing:border-box;border-radius:4.6px;background:#88e6ee;"></div>
<div class="b" style="left:806.2px;top:559.2px;width:51.0px;height:9.0px;border-radius:4.6px;background:#34c4d4"></div>
<div class="b" style="left:808.8px;top:562.9px;width:1.6px;height:1.6px;border-radius:50%;background:#1f97a6"></div>
<div class="b" style="left:971.4px;top:562.9px;width:1.6px;height:1.6px;border-radius:50%;background:#1f97a6"></div>
<span class="t" style="left:806.7px;top:549.0px;font-size:7.4px;line-height:10px;color:#7b8086;letter-spacing:-0.555px;">Jun 6 - Sep 9</span>
<span class="t" style="left:984.2px;top:558.5px;font-size:7.4px;line-height:10px;color:#7b8086;letter-spacing:-0.532px;">Pour Concrete</span>
<div class="b" style="left:528.0px;top:582.8px;width:208.3px;height:9.0px;box-sizing:border-box;border-radius:4.6px;background:#80cff6;"></div>
<div class="b" style="left:528.0px;top:582.8px;width:124.6px;height:9.0px;border-radius:4.6px;background:#2aa0e6"></div>
<div class="b" style="left:530.6px;top:586.5px;width:1.6px;height:1.6px;border-radius:50%;background:#1b6fae"></div>
<div class="b" style="left:731.9px;top:586.5px;width:1.6px;height:1.6px;border-radius:50%;background:#1b6fae"></div>
<span class="t" style="left:528.3px;top:572.6px;font-size:7.4px;line-height:10px;color:#7b8086;letter-spacing:-0.451px;">Sep 29, 2019 - Apr 27, 2020</span>
<span class="t" style="left:744.7px;top:582.1px;font-size:7.4px;line-height:10px;color:#7b8086;letter-spacing:-0.386px;">Construction layout</span>
<div class="b" style="left:1102.6px;top:606.5px;width:100.4px;height:9.0px;box-sizing:border-box;border-radius:4.6px;background:#7fd1f4;"></div>
<div class="b" style="left:1105.2px;top:610.2px;width:1.6px;height:1.6px;border-radius:50%;background:#2e8fc9"></div>
<div class="b" style="left:1198.6px;top:610.2px;width:1.6px;height:1.6px;border-radius:50%;background:#2e8fc9"></div>
<span class="t" style="left:1103.0px;top:596.2px;font-size:7.4px;line-height:10px;color:#7b8086;letter-spacing:-0.496px;">Nov 20, 2020 - Jan 15, 2021</span>
<span class="t" style="left:1211.0px;top:605.8px;font-size:7.4px;line-height:10px;color:#7b8086;letter-spacing:-0.285px;">Interior work</span>
<div class="b" style="left:528.0px;top:658.1px;width:302.9px;height:1.8px;background:#e5304a;"></div>
<div class="b" style="left:830.9px;top:658.5px;width:303.8px;height:1.0px;background:#eda498;"></div>
<div class="b" style="left:1132.7px;top:657.2px;width:3.6px;height:3.6px;background:#ee9486;transform:rotate(45deg)"></div>
<span class="t" style="left:528.3px;top:643.7px;font-size:7.4px;line-height:10px;color:#7b8086;letter-spacing:-0.451px;">May 25, 2018 - Dec 8, 2020</span>
<span class="t" style="left:1155.0px;top:654.2px;font-size:7.4px;line-height:10px;color:#7b8086;letter-spacing:-0.408px;">Cleaning and final walk-through</span>
<div class="b" style="left:638.3px;top:677.7px;width:175.7px;height:4.0px;background:#aaaaaa;"></div>
<div class="b" style="left:814.0px;top:677.7px;width:175.8px;height:4.0px;background:#d8d8d8;"></div>
<div class="b" style="left:638.3px;top:681.7px;width:0;height:0;border-left:0 solid transparent;border-right:3px solid transparent;border-top:3.4px solid #aaaaaa"></div>
<div class="b" style="left:986.8px;top:681.7px;width:0;height:0;border-left:3px solid transparent;border-top:3.4px solid #d8d8d8"></div>
<span class="t" style="left:998.0px;top:676.3px;font-size:7.4px;line-height:10px;color:#7b8086;letter-spacing:-0.379px;">Walk-through check list</span>
<svg style="left:0;top:0" width="1344" height="756" viewBox="0 0 1344 756" fill="none"><path d="M852.2 308 V322.4" stroke="#9aa0a6" stroke-width="0.8"/><path d="M965.2 374.6 V351 H1088.6" stroke="#f08a98" stroke-width="0.9"/><path d="M1086.2 349.2 L1089.4 351 L1086.2 352.8 Z" fill="#b81a33"/><circle cx="965.2" cy="351" r="1.2" fill="#b81a33"/><circle cx="965.2" cy="374.6" r="1.2" fill="#b81a33"/><path d="M944.4 492.6 H942.8 V502.2 H1092.4 V533" stroke="#b9a3a8" stroke-width="0.8"/><path d="M1090.6 532 L1092.4 535.2 L1094.2 532 Z" fill="#7f858b"/><circle cx="942.8" cy="502.2" r="1" fill="#7f858b"/><path d="M1093.5 540.1 H1103.2 V606" stroke="#9aa0a6" stroke-width="0.8"/></svg>
<div class="b" style="left:1263px;top:244.4px;width:57.4px;height:15px;border-radius:2px;background:#fff;box-shadow:0 0.5px 4px rgba(0,0,0,0.16)"></div>
<div class="b" style="left:1269.6px;top:251.5px;width:5.0px;height:0.9px;background:#c3c6ca;"></div>
<div class="b" style="left:1279.8px;top:248.4px;width:0.8px;height:7.0px;background:#cfe3f3;"></div>
<div class="b" style="left:1289.0px;top:251.5px;width:5.0px;height:0.9px;background:#c3c6ca;"></div>
<div class="b" style="left:1291.0px;top:249.4px;width:0.9px;height:5.0px;background:#c3c6ca;"></div>
<div class="b" style="left:1299.6px;top:248.4px;width:0.8px;height:7.0px;background:#cfe3f3;"></div>
<svg style="left:1306.6px;top:247.6px" width="9" height="9" viewBox="0 0 9 9" fill="none" ><rect x="0.9" y="0.9" width="7.2" height="7.2" stroke="#7fbdec" stroke-width="0.7"/><path d="M3.2 0.9 V8.1 M5.8 0.9 V8.1 M3.2 3.3 H5.8 M3.2 5.7 H5.8" stroke="#7fbdec" stroke-width="0.6"/></svg>
<div class="b" style="left:218.0px;top:738.0px;width:1126.0px;height:18.0px;background:#fff;border-radius:0 0 0 11px;"></div>
<div class="b" style="left:348.0px;top:737.6px;width:996.0px;height:0.8px;background:#e9eaec;"></div>
<div class="b" style="left:372.0px;top:739.0px;width:0.8px;height:17.0px;background:#e6e7e9;"></div>
<svg style="left:237.0px;top:741.0px" width="10" height="9" viewBox="0 0 10 9" fill="none" ><path d="M1 4.6 L5 1 L9 4.6 V8.4 H1 Z" fill="#9a9ea5"/></svg>
<svg style="left:289.5px;top:741.0px" width="11" height="9" viewBox="0 0 11 9" fill="none" ><circle cx="3.4" cy="2.6" r="1.6" fill="#9a9ea5"/><circle cx="7.6" cy="2.6" r="1.6" fill="#9a9ea5"/><path d="M0.6 8.4 C0.6 5.4 5 5.4 5.5 7 C6 5.4 10.4 5.4 10.4 8.4 Z" fill="#9a9ea5"/></svg>
<svg style="left:342.5px;top:741.0px" width="10" height="9" viewBox="0 0 10 9" fill="none" ><circle cx="5" cy="2.6" r="2" fill="#9a9ea5"/><path d="M1 8.6 C1 4.8 9 4.8 9 8.6 Z" fill="#9a9ea5"/></svg>
<span class="t" style="left:236.2px;top:749.1px;font-size:4.6px;line-height:7px;color:#b4b8bd;letter-spacing:-0.083px;">Chats</span>
<span class="t" style="left:285.6px;top:749.1px;font-size:4.6px;line-height:7px;color:#b4b8bd;letter-spacing:-0.104px;">Channels</span>
<span class="t" style="left:338.2px;top:749.1px;font-size:4.6px;line-height:7px;color:#b4b8bd;letter-spacing:-0.069px;">Contacts</span>
<span class="t" style="left:378.0px;top:742.4px;font-size:7.2px;line-height:10px;color:#c2c5c9;letter-spacing:-0.190px;">Here is your Smart Chat (Ctrl+Space)</span>
<div class="b" style="left:1199.0px;top:739.0px;width:0.8px;height:17.0px;background:#eeeff1;"></div>
<div class="b" style="left:1229.7px;top:739.0px;width:0.8px;height:17.0px;background:#eeeff1;"></div>
<div class="b" style="left:1260.4px;top:739.0px;width:0.8px;height:17.0px;background:#eeeff1;"></div>
<div class="b" style="left:1291.1px;top:739.0px;width:0.8px;height:17.0px;background:#eeeff1;"></div>
<div class="b" style="left:1321.8px;top:739.0px;width:0.8px;height:17.0px;background:#eeeff1;"></div>
<span class="t" style="left:1177.6px;top:743.6px;font-size:8px;line-height:10px;color:#30343a;letter-spacing:0.296px;font-style:italic;">Zia</span>
<svg style="left:1208.5px;top:742.5px" width="12" height="12" viewBox="0 0 12 12" fill="none" ><path d="M4 4.6 L7.4 8 C6.4 9.6 4.6 9.6 3.6 8.6 C2.4 7.4 2.6 5.8 4 4.6 Z M3.4 8.8 L1.4 10.8 M5.4 3.6 L7 2 M8.4 6.6 L10 5 M6.6 1.6 L10.4 5.4" stroke="#30343a" stroke-width="0.95" stroke-linecap="round"/></svg>
<svg style="left:1239.5px;top:742.5px" width="12" height="12" viewBox="0 0 12 12" fill="none" ><path d="M1.4 5 H3.6 L7.4 2.4 V9.6 L3.6 7.6 H1.4 Z M3 7.8 L3.8 10.4 H5.2 L4.6 8" stroke="#30343a" stroke-width="0.95" stroke-linejoin="round"/><path d="M9 4.2 L10.4 3.2 M9.2 6 H11 M9 7.8 L10.4 8.8" stroke="#30343a" stroke-width="0.9" stroke-linecap="round"/></svg>
<svg style="left:1270.0px;top:742.5px" width="12" height="12" viewBox="0 0 12 12" fill="none" ><circle cx="6.4" cy="5.8" r="4.4" stroke="#30343a" stroke-width="0.95"/><path d="M5 4.6 C5 3 7.8 3 7.8 4.6 C7.8 5.6 6.4 5.6 6.4 6.8 M6.4 8 V8.4" stroke="#30343a" stroke-width="0.9" stroke-linecap="round"/><path d="M2.6 8.6 L1.4 11 L4.2 9.8" fill="#30343a"/></svg>
<svg style="left:1300.5px;top:742.5px" width="12" height="12" viewBox="0 0 12 12" fill="none" ><path d="M1.4 3 C3.4 2.2 5 2.2 6 3 C7 2.2 8.6 2.2 10.6 3 C10.6 7 8.6 9.2 6 9.6 C3.4 9.2 1.4 7 1.4 3 Z M3.2 5 H4.8 M7.2 5 H8.8" stroke="#9ea2a8" stroke-width="0.9" stroke-linejoin="round"/></svg>
<svg style="left:1331.5px;top:742.0px" width="12" height="12" viewBox="0 0 12 12" fill="none" ><circle cx="5.4" cy="5.2" r="3.7" stroke="#7b8087" stroke-width="0.95"/><path d="M8.2 8 L11 10.8 M3.8 5.2 H7 M5.4 3.6 V6.8" stroke="#7b8087" stroke-width="0.9" stroke-linecap="round"/></svg>
<span class="t" style="left:398.5px;top:626.0px;font-size:50.5px;line-height:60px;color:#7a7a7a;font-weight:700;letter-spacing:4.103px;-webkit-text-stroke:1.3px #7a7a7a;opacity:0.23;">SoftwareSuggest</span>
<span class="t" style="left:869.5px;top:644.4px;font-size:32px;line-height:40px;color:#7a7a7a;font-weight:700;letter-spacing:0.579px;-webkit-text-stroke:0.8px #7a7a7a;opacity:0.23;">.com</span>
</body></html>
